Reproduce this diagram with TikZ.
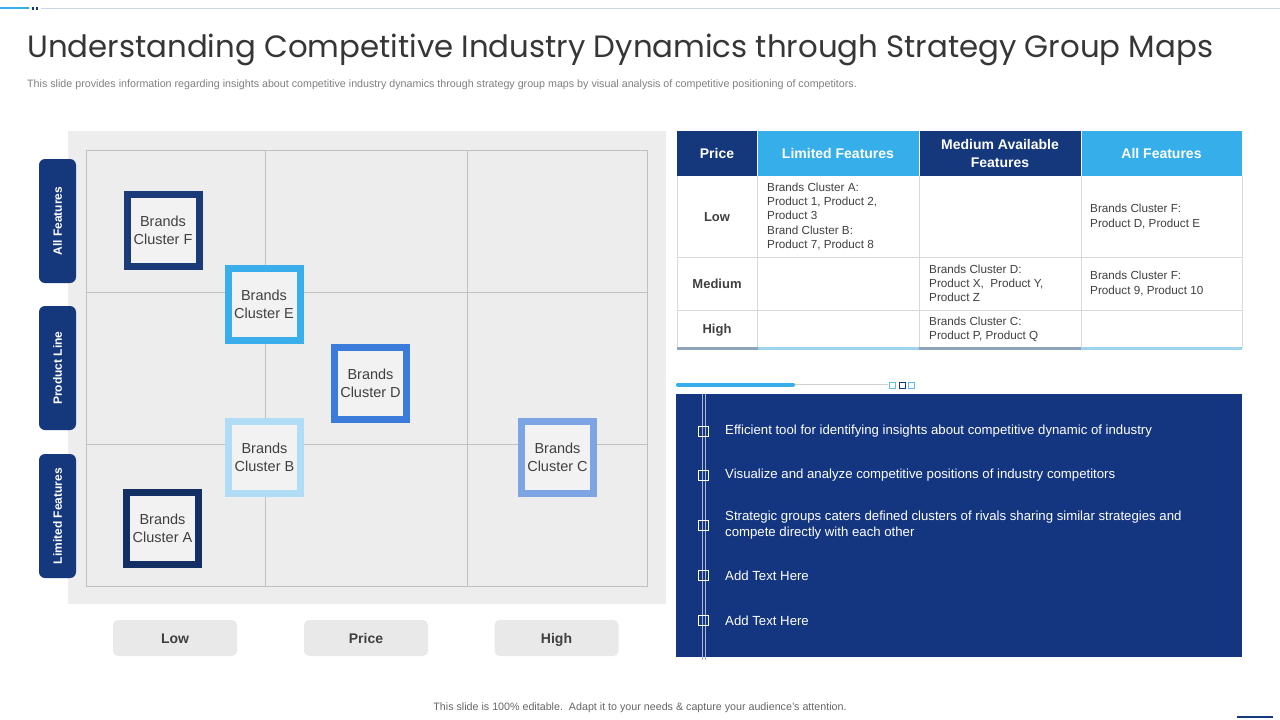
\documentclass[tikz,border=0pt]{standalone}
\usepackage{fontspec}
\setmainfont{Liberation Sans}
\newfontfamily\titlefont{Poppins}
\newcommand\myfs[2]{\fontsize{#1}{#2}\selectfont}
\definecolor{navy}{HTML}{15387C}
\definecolor{sky}{HTML}{36AEEA}
\definecolor{panelgray}{HTML}{EDEDED}
\definecolor{gridgray}{HTML}{C0C0C0}
\definecolor{boxfill}{HTML}{F2F2F2}
\definecolor{txt}{HTML}{404040}
\definecolor{cF}{HTML}{1B3A78}
\definecolor{cA}{HTML}{132F63}
\definecolor{cE}{HTML}{39AEEA}
\definecolor{cD}{HTML}{3B7BD9}
\definecolor{cB}{HTML}{B0DDF5}
\definecolor{cC}{HTML}{7EA5E3}
\definecolor{topline}{HTML}{C8D6E2}
\definecolor{cellline}{HTML}{D9D9D9}
\definecolor{botgray}{HTML}{8FA3B8}
\definecolor{botsky}{HTML}{9ED3F0}
\definecolor{vline}{HTML}{A9B8D2}
\definecolor{lightbar}{HTML}{D0D0D0}
\definecolor{labgray}{HTML}{E9E9E9}
\tikzset{
  cluster/.style={draw=#1, line width=7pt, fill=boxfill, minimum width=72pt, minimum height=72pt,
    inner sep=0pt, align=center, text=txt, font=\myfs{14.5}{18}},
  sidelab/.style={fill=navy, rounded corners=6pt, minimum width=124pt, minimum height=37pt,
    rotate=90, text=white, inner sep=0pt, font=\bfseries\myfs{12}{14}},
  botlab/.style={fill=labgray, rounded corners=5pt, minimum width=124pt, minimum height=36pt,
    inner sep=0pt, text=txt, text height=10pt, text depth=0pt, font=\bfseries\myfs{14}{16}},
  hdr/.style={minimum height=45pt, inner sep=0pt, text=white, align=center, font=\bfseries\myfs{14}{18}},
  rowlab/.style={inner sep=0pt, text=txt, font=\bfseries\myfs{13}{15}},
  celltxt/.style={anchor=west, inner sep=0pt, align=left, text=txt, font=\myfs{11.7}{14.3}},
  bulletsq/.style={draw=white, line width=0.9pt, minimum size=10pt, inner sep=0pt},
  bullettxt/.style={anchor=west, inner sep=0pt, align=left, text=white, font=\myfs{13.2}{16}},
  gridline/.style={draw=gridgray, line width=0.9pt},
}
\begin{document}
\begin{tikzpicture}[x=1pt,y=-1pt]
\useasboundingbox[fill=white] (0,0) rectangle (1280,720);

% top decoration
\draw[topline, line width=1pt] (41,8) -- (1280,8);
\draw[sky, line width=2.5pt] (0,8) -- (29,8);
\fill[navy] (31.5,6.5) rectangle +(2.5,3);
\fill[navy] (35.5,6.5) rectangle +(2.5,3);

% title and subtitle
\node[anchor=base west, inner sep=0pt, text=txt!85!black] (title) at (27,57)
  {\resizebox{1186pt}{!}{\titlefont\myfs{32}{36}Understanding Competitive Industry Dynamics through Strategy Group Maps}};
\node[anchor=base west, inner sep=0pt, text=gray, font=\myfs{10.7}{12}] (subtitle) at (27,87)
  {This slide provides information regarding insights about competitive industry dynamics through strategy group maps by visual analysis of competitive positioning of competitors.};

% left map panel
\fill[panelgray] (68,131) rectangle (666,604);
\draw[gridline] (86,150) rectangle (647,586);
\draw[gridline] (265.5,150) -- (265.5,586);
\draw[gridline] (467.5,150) -- (467.5,586);
\draw[gridline] (86,292.5) -- (647,292.5);
\draw[gridline] (86,444.5) -- (647,444.5);

% clusters
\node[cluster=cF] (F) at (163,230) {Brands\\Cluster F};
\node[cluster=cE] (E) at (264,304) {Brands\\Cluster E};
\node[cluster=cD] (D) at (370.5,383.5) {Brands\\Cluster D};
\node[cluster=cB] (B) at (264.5,457.5) {Brands\\Cluster B};
\node[cluster=cC] (C) at (557.5,457.5) {Brands\\Cluster C};
\node[cluster=cA] (A) at (162.5,528.5) {Brands\\Cluster A};

% side labels
\node[sidelab] (allf) at (57.5,221) {All Features};
\node[sidelab] (pline) at (57.5,368) {Product Line};
\node[sidelab] (limf) at (57.5,516) {Limited Features};

% bottom labels
\node[botlab] (low) at (175,638) {Low};
\node[botlab] (price) at (366,638) {Price};
\node[botlab] (high) at (556.5,638) {High};

% table header
\node[hdr, fill=navy, minimum width=80pt] (hPrice) at (717,153.5) {Price};
\node[hdr, fill=sky, minimum width=162pt] (hLim) at (838,153.5) {Limited Features};
\node[hdr, fill=navy, minimum width=162pt] (hMed) at (1000,153.5) {Medium Available\\Features};
\node[hdr, fill=sky, minimum width=161pt] (hAll) at (1161.5,153.5) {All Features};
\draw[white, line width=1pt] (757,131) -- (757,176);
\draw[white, line width=1pt] (919,131) -- (919,176);
\draw[white, line width=1pt] (1081,131) -- (1081,176);

% table body grid
\draw[cellline, line width=0.9pt] (677,257.5) -- (1242,257.5);
\draw[cellline, line width=0.9pt] (677,310) -- (1242,310);
\draw[cellline, line width=0.9pt] (757.5,176) -- (757.5,348);
\draw[cellline, line width=0.9pt] (919,176) -- (919,348);
\draw[cellline, line width=0.9pt] (1081,176) -- (1081,348);
\draw[cellline, line width=0.9pt] (677,176) -- (677,348);
\draw[cellline, line width=0.9pt] (1242,176) -- (1242,348);
\draw[botgray, line width=2.5pt] (677,348.5) -- (757.5,348.5);
\draw[botsky, line width=2.5pt] (757.5,348.5) -- (919,348.5);
\draw[botgray, line width=2.5pt] (919,348.5) -- (1081,348.5);
\draw[botsky, line width=2.5pt] (1081,348.5) -- (1242,348.5);

% row labels
\node[rowlab] (rLow) at (717,217) {Low};
\node[rowlab] (rMed) at (717,284) {Medium};
\node[rowlab] (rHigh) at (717,330) {High};

% cells
\node[celltxt] (c11) at (767,216.5) {Brands Cluster A:\\Product 1, Product 2,\\Product 3\\Brand Cluster B:\\Product 7, Product 8};
\node[celltxt] (c13) at (1090,216.5) {Brands Cluster F:\\Product D, Product E};
\node[celltxt] (c22) at (929,283.5) {Brands Cluster D:\\Product X,\ \ Product Y,\\Product Z};
\node[celltxt] (c23) at (1090,283.5) {Brands Cluster F:\\Product 9, Product 10};
\node[celltxt] (c32) at (929,329.5) {Brands Cluster C:\\Product P, Product Q};

% progress bar
\draw[lightbar, line width=0.8pt] (795,384.5) -- (888,384.5);
\draw[sky, line width=4pt, line cap=round] (678,384.5) -- (793,384.5);
\draw[sky!80, line width=0.9pt] (889.5,382) rectangle (895.5,388);
\draw[navy, line width=0.9pt] (899,382) rectangle (905,388);
\draw[sky!80, line width=0.9pt] (908.5,382) rectangle (914.5,388);

% blue panel
\fill[navy!97!blue] (676,394) rectangle (1242,657);
\draw[vline, line width=0.8pt] (702,394) -- (702,660);
\draw[vline, line width=0.8pt] (705.5,394) -- (705.5,660);

\node[bulletsq] (b1) at (703.8,431) {};
\node[bulletsq] (b2) at (703.8,475.5) {};
\node[bulletsq] (b3) at (703.8,525) {};
\node[bulletsq] (b4) at (703.8,575.5) {};
\node[bulletsq] (b5) at (703.8,620.5) {};

\node[bullettxt] (t1) at (725,431) {Efficient tool for identifying insights about competitive dynamic of industry};
\node[bullettxt] (t2) at (725,475.5) {Visualize and analyze competitive positions of industry competitors};
\node[bullettxt] (t3) at (725,525) {Strategic groups caters defined clusters of rivals sharing similar strategies and\\compete directly with each other};
\node[bullettxt] (t4) at (725,575.5) {Add Text Here};
\node[bullettxt] (t5) at (725,620.5) {Add Text Here};

% footer
\node[inner sep=0pt, text=txt!80, font=\myfs{10.7}{12}] (foot) at (640,708) {This slide is 100\% editable.\ \ Adapt it to your needs \& capture your audience's attention.};
\draw[navy, line width=2pt] (1237,717) -- (1273,717);
\end{tikzpicture}
\end{document}
